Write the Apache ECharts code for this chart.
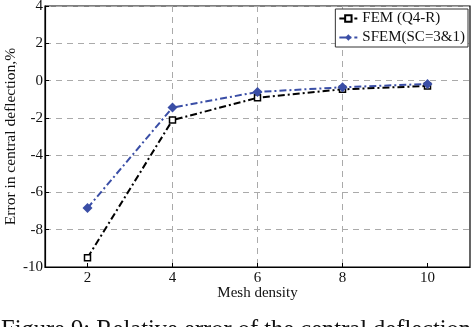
<!DOCTYPE html>
<html><head><meta charset="utf-8">
<script src="https://cdn.jsdelivr.net/npm/echarts@6/dist/echarts.min.js"></script>
<style>html,body{margin:0;padding:0;background:#fff}#c{width:474px;height:327px}</style>
</head><body><div id="c"></div>
<script>
const meshDensity = [2, 4, 6, 8, 10];
const femQ4R = [-9.5, -2.12, -0.92, -0.47, -0.29];
const sfem = [-6.84, -1.45, -0.61, -0.36, -0.18];
const seriesNames = ['FEM (Q4-R)', 'SFEM(SC=3&1)'];
const xTicks = [2, 4, 6, 8, 10];
const yTicks = [-10, -8, -6, -4, -2, 0, 2, 4];
const caption = 'Figure 9: Relative error of the central deflection';

const font = 'Liberation Serif';
const chart = echarts.init(document.getElementById('c'));
const dash = [7, 3, 2, 3];
chart.setOption({
  animation: false,
  grid: {left: 45, right: 4, top: 6, bottom: 60, containLabel: false, outerBoundsMode: 'none',
         show: true, borderColor: '#000', borderWidth: 1.2},
  legend: {
    right: 6, top: 9, orient: 'vertical', itemGap: 4, itemWidth: 18, itemHeight: 8,
    backgroundColor: '#fff', borderColor: '#333', borderWidth: 1, padding: [2, 3, 2, 3],
    textStyle: {fontFamily: font, fontSize: 15, color: '#111'},
    data: seriesNames
  },
  xAxis: {
    type: 'value', min: 1, max: 11, interval: 1,
    name: 'Mesh density', nameLocation: 'middle', nameGap: 19, nameMoveOverlap: false,
    nameTextStyle: {fontFamily: font, fontSize: 15, color: '#111'},
    axisLine: {onZero: false, lineStyle: {color: '#000', width: 1.2}},
    axisTick: {inside: true, length: 4, lineStyle: {color: '#000'}, customValues: xTicks},
    axisLabel: {fontFamily: font, fontSize: 15, color: '#111', margin: 4, customValues: xTicks},
    splitLine: {show: true, lineStyle: {color: '#aaa', type: [6, 5]}, showMinLine: false, showMaxLine: false},
    minorSplitLine: {show: false}
  },
  yAxis: {
    type: 'value', min: -10, max: 4, interval: 2,
    name: 'Error in central deflection,%', nameLocation: 'middle', nameGap: 26, nameRotate: 90,
    nameMoveOverlap: false,
    nameTextStyle: {fontFamily: font, fontSize: 15.5, color: '#111'},
    axisLine: {onZero: false, lineStyle: {color: '#000', width: 1.2}},
    axisTick: {inside: true, length: 4, lineStyle: {color: '#000'}},
    axisLabel: {fontFamily: font, fontSize: 15, color: '#111', margin: 2},
    splitLine: {show: true, lineStyle: {color: '#aaa', type: [6, 5]}}
  },
  graphic: [{
    type: 'text', left: 1, top: 318,
    style: {text: caption, font: '24.5px "Liberation Serif"', fill: '#111'}
  }],
  series: [
    {
      name: seriesNames[0], type: 'line',
      data: meshDensity.map((x, i) => [x, femQ4R[i]]),
      symbol: 'rect', symbolSize: 6,
      itemStyle: {color: '#fff', borderColor: '#000', borderWidth: 1.5},
      lineStyle: {color: '#000', width: 2, type: dash}
    },
    {
      name: seriesNames[1], type: 'line',
      data: meshDensity.map((x, i) => [x, sfem[i]]),
      symbol: 'diamond', symbolSize: 10,
      itemStyle: {color: '#3a4ea6'},
      lineStyle: {color: '#3a4ea6', width: 2, type: dash}
    }
  ]
});
</script></body></html>
